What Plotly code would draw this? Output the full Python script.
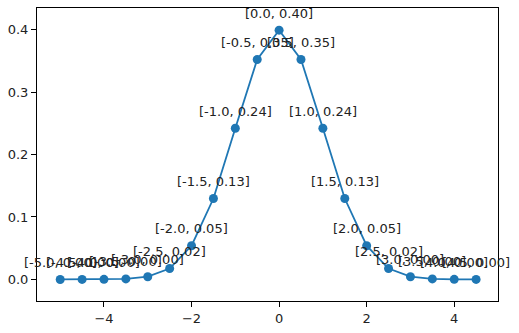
import plotly.graph_objects as go

x_vals = [-5.0, -4.5, -4.0, -3.5, -3.0, -2.5, -2.0, -1.5, -1.0, -0.5,
          0.0, 0.5, 1.0, 1.5, 2.0, 2.5, 3.0, 3.5, 4.0, 4.5]
y_vals = [0.0000015, 0.000016, 0.000134, 0.00087, 0.0044, 0.0175, 0.054, 0.1295, 0.242, 0.352,
          0.399, 0.352, 0.242, 0.1295, 0.054, 0.0175, 0.0044, 0.00087, 0.000134, 0.000016]
x_ticks = [-4, -2, 0, 2, 4]
y_ticks = [0.0, 0.1, 0.2, 0.3, 0.4]

FONT = "DejaVu Sans"
COLOR = "#1f77b4"

fig = go.Figure()
fig.add_trace(go.Scatter(
    x=x_vals, y=y_vals, mode="lines+markers",
    line=dict(color=COLOR, width=1.8),
    marker=dict(color=COLOR, size=9),
    showlegend=False, hoverinfo="skip",
))

for xv, yv in zip(x_vals, y_vals):
    fig.add_annotation(
        x=xv, y=yv, xref="x", yref="y",
        text=f"[{xv:.1f}, {yv:.2f}]",
        showarrow=False, yshift=17, yanchor="middle", xanchor="center",
        font=dict(family=FONT, size=13, color="#222222"),
    )

axis_common = dict(
    showline=True, mirror=True, linecolor="black", linewidth=1,
    showgrid=False, zeroline=False,
    ticks="outside", ticklen=5, tickwidth=1, tickcolor="black",
    tickfont=dict(family=FONT, size=13, color="#222222"),
)

fig.update_xaxes(range=[-5.53, 5.0], tickvals=x_ticks, **axis_common)
fig.update_yaxes(range=[-0.0345, 0.4345], tickvals=y_ticks, tickformat=".1f", **axis_common)

fig.update_layout(
    width=519, height=333,
    margin=dict(l=37, r=21, t=7, b=26),
    paper_bgcolor="white", plot_bgcolor="white",
)

fig.write_html("out.html")
